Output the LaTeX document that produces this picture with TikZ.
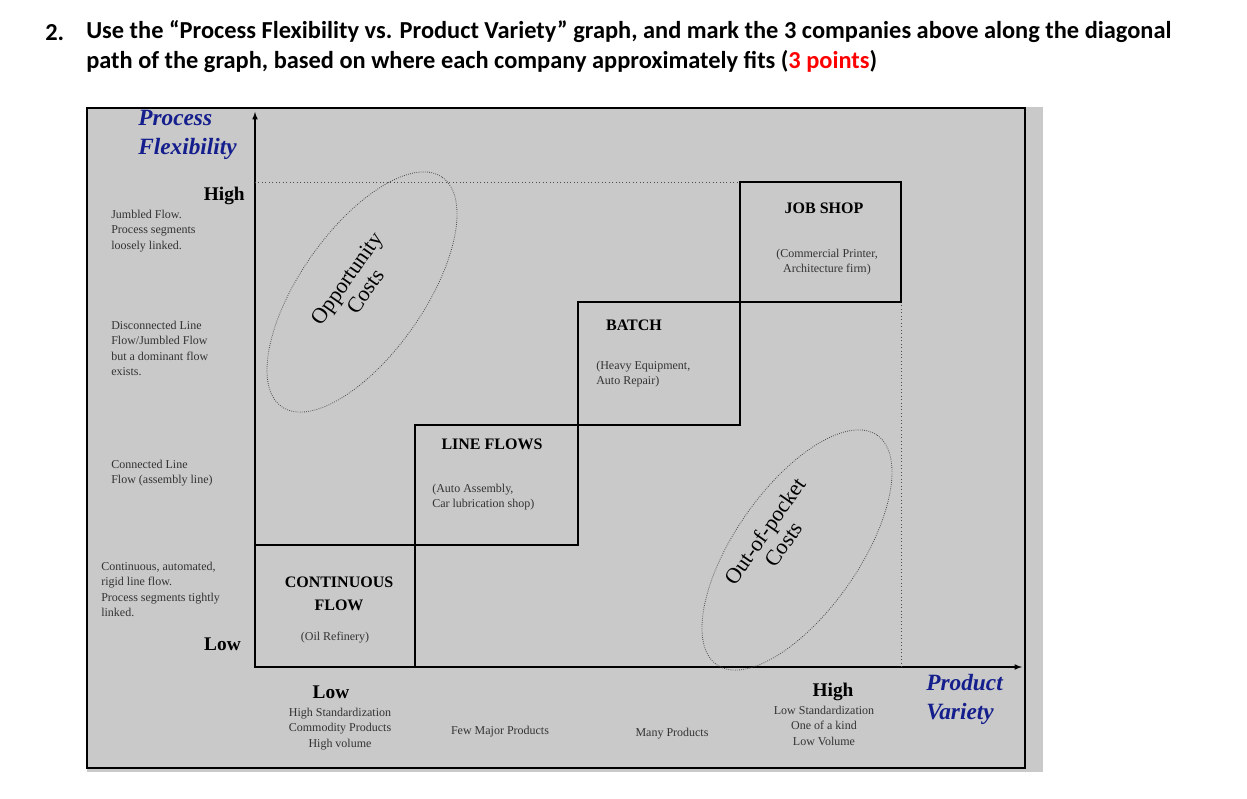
\documentclass[tikz,border=0pt]{standalone}
\usepackage{fontspec}
\setmainfont{Liberation Serif}
\newfontfamily\myttlfont{Carlito}
\begin{document}
\begin{tikzpicture}[x=0.75pt,y=-0.75pt,
 sm/.style={font=\fontsize{9}{11.5}\selectfont,align=left,anchor=north west,inner sep=0,text=black!80},
 smc/.style={font=\fontsize{9}{11.5}\selectfont,align=center,inner sep=0,text=black!80},
 big/.style={font=\fontsize{14.5}{16}\selectfont\bfseries,inner sep=0},
 lab/.style={font=\fontsize{12}{17}\selectfont\bfseries,inner sep=0,align=center},
 blue/.style={font=\fontsize{17.5}{22}\selectfont\bfseries\itshape,text={rgb,255:red,20;green,30;blue,140},inner sep=0,align=left},
 box/.style={draw,line width=0.8pt},
 dot/.style={dotted,line width=0.6pt,black!70}]
\useasboundingbox (0,0) rectangle (1247,799);
\node[anchor=west,inner sep=0,font=\myttlfont\fontsize{18.3}{20}\selectfont\bfseries] (q) at (45,33) {2.};
\node[anchor=north west,inner sep=0,align=left,font=\myttlfont\fontsize{18.3}{22.5}\selectfont\bfseries] (t) at (86,20) {Use the “Process Flexibility vs. Product Variety” graph, and mark the 3 companies above along the diagonal\\path of the graph, based on where each company approximately fits ({\color{red}3 points})};
\fill[black!21] (87,107) rectangle (1043,772);
\draw[line width=1pt] (87,108) rectangle (1025,768);
\coordinate (o) at (255,667);
\coordinate (yt) at (255,112);
\coordinate (xt) at (1022,667);
\draw[-latex,line width=0.9pt] (o) -- (yt);
\draw[-latex,line width=0.9pt] (o) -- (xt);
\draw[dot] (255,182) -- (740,182);
\draw[dot] (901,302) -- (901,667);
\draw[box] (255,545) rectangle (415,667);
\draw[box] (415,425) rectangle (578,545);
\draw[box] (578,302) rectangle (740,425);
\draw[box] (740,182) rectangle (901,302);
\draw[dot,densely dotted] (362,292) ellipse[x radius=140,y radius=62,rotate=55];
\draw[dot,densely dotted] (797,550) ellipse[x radius=140,y radius=62,rotate=55];
\node[rotate=55,font=\fontsize{16.5}{17}\selectfont,align=center] (oc) at (356,285) {Opportunity\\Costs};
\node[rotate=55,font=\fontsize{16.5}{17}\selectfont,align=center] (op) at (774,538) {Out-of-pocket\\Costs};
\node[blue,anchor=north west] (pf) at (138,110) {Process\\Flexibility};
\node[blue,anchor=north west] (pv) at (926,674) {Product\\Variety};
\node[big,anchor=east] (hi) at (245,196) {High};
\node[big,anchor=east] (lo) at (241,644) {Low};
\node[big] (lo2) at (331,692) {Low};
\node[big] (hi2) at (833,692) {High};
\node[sm] (a) at (111,210) {Jumbled Flow.\\Process segments\\loosely linked.};
\node[sm] (b) at (111,321) {Disconnected Line\\Flow/Jumbled Flow\\but a dominant flow\\exists.};
\node[sm] (c) at (111,460) {Connected Line\\Flow (assembly line)};
\node[sm] (d) at (101,562) {Continuous, automated,\\rigid line flow.\\Process segments tightly\\linked.};
\node[smc,anchor=north] (e) at (340,708) {High Standardization\\Commodity Products\\High volume};
\node[smc] (f) at (500,732) {Few Major Products};
\node[smc] (g) at (672,734) {Many Products};
\node[smc,anchor=north] (h) at (824,706) {Low Standardization\\One of a kind\\Low Volume};
\node[lab] (js) at (824,208) {JOB SHOP};
\node[smc] (js2) at (827,262) {(Commercial Printer,\\Architecture firm)};
\node[lab] (bt) at (634,325) {BATCH};
\node[sm] (bt2) at (596,361) {(Heavy Equipment,\\Auto Repair)};
\node[lab] (lf) at (492,444) {LINE FLOWS};
\node[sm] (lf2) at (432,484) {(Auto Assembly,\\Car lubrication shop)};
\node[lab] (cf) at (339,594) {CONTINUOUS\\FLOW};
\node[smc] (cf2) at (335,638) {(Oil Refinery)};
\end{tikzpicture}
\end{document}
